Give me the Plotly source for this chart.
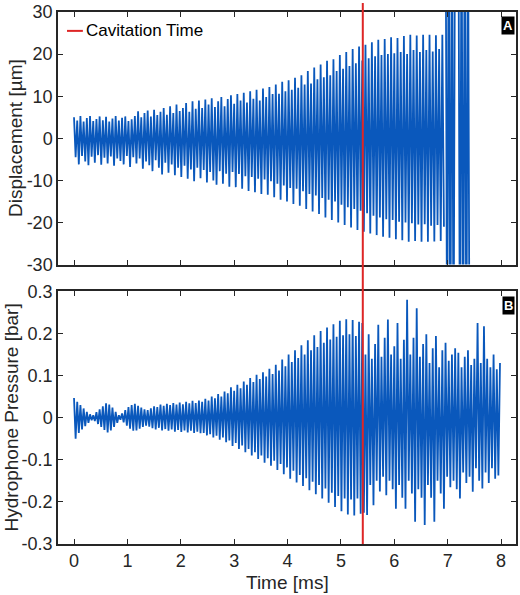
import plotly.graph_objects as go
from plotly.subplots import make_subplots

# time between a positive and the following negative peak, ms
half_period = 0.03
cavitation_time = 5.41

# displacement [um], positive / negative peak of each cycle up to ~6.9 ms
disp_pos = [
    5.0, 4.2, 5.3, 4.0, 4.8, 5.3, 4.1, 4.6, 5.2, 4.3,
    5.1, 4.0, 4.7, 5.3, 4.2, 4.9, 5.2, 4.1, 4.5, 5.3,
    6.4, 5.0, 6.0, 6.6, 5.2, 6.8, 5.5, 6.3, 7.2, 5.6,
    7.6, 6.0, 8.0, 6.5, 7.2, 8.4, 6.3, 8.8, 7.0, 9.0,
    7.2, 9.2, 8.0, 9.5, 7.4, 8.8, 9.8, 7.6, 9.3, 10.2,
    8.2, 10.5, 9.0, 10.8, 8.5, 11.2, 9.4, 11.5, 9.0, 11.8,
    9.8, 12.2, 10.5, 12.8, 10.6, 13.4, 11.2, 13.8, 11.5, 14.4,
    12.0, 15.0, 12.8, 16.0, 13.0, 16.8, 14.0, 17.5, 14.5, 18.4,
    15.0, 18.8, 16.0, 19.8, 16.5, 20.5, 17.2, 21.2, 17.8, 21.8,
    18.5, 22.2, 19.0, 22.8, 19.5, 23.4, 19.8, 23.6, 20.0, 24.0,
    20.2, 23.8, 20.5, 24.3, 20.0, 24.6, 21.0, 24.4, 20.5, 24.6,
    21.0, 24.6, 20.6, 24.5, 21.2, 24.6,
]
disp_neg = [
    -4.5, -6.2, -4.2, -5.5, -6.4, -4.4, -5.8, -4.0, -6.3, -4.6,
    -6.0, -4.3, -6.5, -4.8, -5.4, -6.2, -4.2, -6.8, -4.5, -6.0,
    -4.8, -7.2, -5.5, -6.4, -7.8, -5.2, -7.0, -8.6, -5.8, -8.2,
    -6.2, -8.8, -7.0, -9.2, -6.5, -9.6, -7.4, -10.2, -7.0, -9.5,
    -7.5, -10.5, -8.0, -10.0, -11.0, -7.8, -10.8, -8.4, -11.5, -8.0,
    -11.6, -8.5, -12.0, -9.0, -12.5, -9.2, -12.8, -9.6, -13.2, -9.8,
    -13.4, -10.2, -14.0, -10.8, -14.6, -11.2, -15.0, -11.8, -15.6, -12.0,
    -16.0, -12.6, -16.8, -13.2, -17.4, -13.6, -18.0, -14.2, -18.8, -14.6,
    -19.4, -15.0, -20.0, -15.8, -20.6, -16.4, -21.2, -16.8, -21.8, -17.2,
    -22.2, -17.8, -22.6, -18.4, -23.0, -18.8, -23.4, -19.2, -23.6, -19.4,
    -24.0, -19.8, -24.2, -20.0, -24.6, -20.2, -24.4, -20.5, -24.6, -20.4,
    -24.6, -20.8, -24.5, -20.6, -24.4, -21.0,
]

# blow-out after cavitation: two bursts far beyond the +/-30 um range
burst_a_start = 6.96
burst_a = [65, -60, 60, -60, 60, -60, 65]
burst_b_start = 7.20
burst_b = [60, -60, 60, -60, 60, -60, 60, -60]

# hydrophone pressure [bar], positive / negative peak of each cycle
pres_pos = [
    0.047, 0.038, 0.030, 0.022, 0.014, 0.008, 0.006, 0.013, 0.020, 0.027,
    0.034, 0.031, 0.024, 0.014, 0.006, 0.010, 0.018, 0.025, 0.030, 0.033,
    0.028, 0.024, 0.020, 0.018, 0.022, 0.027, 0.025, 0.031, 0.028, 0.033,
    0.030, 0.035, 0.031, 0.036, 0.032, 0.038, 0.034, 0.040, 0.035, 0.041,
    0.038, 0.045, 0.041, 0.050, 0.046, 0.056, 0.050, 0.062, 0.058, 0.072,
    0.064, 0.078, 0.070, 0.086, 0.078, 0.094, 0.085, 0.102, 0.092, 0.108,
    0.098, 0.116, 0.104, 0.126, 0.112, 0.138, 0.122, 0.150, 0.132, 0.160,
    0.142, 0.172, 0.150, 0.184, 0.160, 0.196, 0.168, 0.206, 0.178, 0.214,
    0.186, 0.222, 0.192, 0.230, 0.196, 0.234, 0.198, 0.232, 0.194, 0.228,
    0.225, 0.150, 0.198, 0.140, 0.175, 0.221, 0.145, 0.190, 0.233, 0.150,
    0.170, 0.225, 0.140, 0.185, 0.280, 0.150, 0.190, 0.260, 0.145, 0.175,
    0.198, 0.130, 0.165, 0.194, 0.120, 0.160, 0.178, 0.135, 0.150, 0.165,
    0.154, 0.120, 0.145, 0.160, 0.125, 0.140, 0.225, 0.130, 0.217, 0.140,
    0.120, 0.150, 0.115, 0.130,
]
pres_neg = [
    -0.050, -0.036, -0.028, -0.020, -0.012, -0.006, -0.008, -0.015, -0.022, -0.029,
    -0.035, -0.030, -0.022, -0.012, -0.005, -0.011, -0.019, -0.026, -0.031, -0.030,
    -0.026, -0.022, -0.019, -0.021, -0.025, -0.028, -0.024, -0.030, -0.027, -0.031,
    -0.028, -0.033, -0.029, -0.034, -0.030, -0.035, -0.031, -0.036, -0.033, -0.037,
    -0.036, -0.042, -0.039, -0.047, -0.043, -0.052, -0.047, -0.058, -0.054, -0.067,
    -0.060, -0.074, -0.066, -0.082, -0.074, -0.090, -0.082, -0.098, -0.090, -0.107,
    -0.096, -0.114, -0.102, -0.124, -0.110, -0.134, -0.118, -0.145, -0.126, -0.154,
    -0.136, -0.162, -0.144, -0.172, -0.152, -0.182, -0.160, -0.192, -0.168, -0.202,
    -0.178, -0.212, -0.186, -0.222, -0.192, -0.230, -0.194, -0.232, -0.192, -0.228,
    -0.226, -0.231, -0.160, -0.208, -0.150, -0.175, -0.140, -0.184, -0.150, -0.170,
    -0.216, -0.160, -0.190, -0.216, -0.150, -0.180, -0.247, -0.170, -0.190, -0.255,
    -0.160, -0.190, -0.247, -0.150, -0.180, -0.216, -0.140, -0.165, -0.150, -0.170,
    -0.192, -0.130, -0.155, -0.140, -0.176, -0.120, -0.150, -0.168, -0.130, -0.155,
    -0.120, -0.145, -0.137,
]

time_ticks = [0, 1, 2, 3, 4, 5, 6, 7, 8]
disp_ticks = [-30, -20, -10, 0, 10, 20, 30]
disp_tick_labels = ["-30", "-20", "-10", "0", "10", "20", "30"]
pres_ticks = [-0.3, -0.2, -0.1, 0, 0.1, 0.2, 0.3]
pres_tick_labels = ["-0.3", "-0.2", "-0.1", "0", "0.1", "0.2", "0.3"]

BLUE = "rgb(10,88,188)"
RED = "rgb(222,38,38)"
AXIS = "#262626"
FONT = "Liberation Sans, Arial, sans-serif"


def interleave(pos, neg):
    out = []
    for i, p in enumerate(pos):
        out.append(p)
        if i < len(neg):
            out.append(neg[i])
    return out


fig = make_subplots(rows=2, cols=1)

# wide strokes so the packed oscillation reads as a solid core with spikes
signal = dict(mode="lines", line=dict(color=BLUE, width=1.8), showlegend=False)

fig.add_trace(go.Scatter(y=interleave(disp_pos, disp_neg), x0=0, dx=half_period,
                         **signal), row=1, col=1)
fig.add_trace(go.Scatter(y=burst_a, x0=burst_a_start, dx=half_period, **signal),
              row=1, col=1)
fig.add_trace(go.Scatter(y=burst_b, x0=burst_b_start, dx=half_period, **signal),
              row=1, col=1)
fig.add_trace(go.Scatter(y=interleave(pres_pos, pres_neg), x0=0, dx=half_period,
                         **signal), row=2, col=1)

axis_style = dict(
    showline=True, linecolor=AXIS, linewidth=1.5, mirror="ticks",
    ticks="inside", ticklen=5, tickwidth=1, tickcolor=AXIS,
    showgrid=False, zeroline=False,
    tickfont=dict(family=FONT, size=18, color=AXIS),
)

fig.update_xaxes(range=[-0.3, 8.28], tickvals=time_ticks, domain=[0, 1], **axis_style)
fig.update_xaxes(showticklabels=False, row=1, col=1)
fig.update_yaxes(range=[-30, 30], tickvals=disp_ticks, ticktext=disp_tick_labels,
                 domain=[0.5252, 1], ticklabelstandoff=0, row=1, col=1, **axis_style)
fig.update_yaxes(range=[-0.3, 0.3], tickvals=pres_ticks, ticktext=pres_tick_labels,
                 domain=[0, 0.4748], ticklabelstandoff=0, row=2, col=1, **axis_style)

# cavitation marker across both panels, up to the top edge
fig.add_shape(
    type="line", x0=cavitation_time, x1=cavitation_time,
    xref="x2", yref="paper", y0=0, y1=1.017,
    line=dict(color=RED, width=2)
)

# legend entry (short key like the original)
fig.add_shape(type="line", xref="paper", yref="paper",
              x0=0.0196, x1=0.0543, y0=0.9645, y1=0.9645,
              line=dict(color=RED, width=2))
fig.add_annotation(xref="paper", yref="paper", x=0.0565, y=0.9645,
                   text="Cavitation Time", showarrow=False,
                   xanchor="left", yanchor="middle",
                   font=dict(family=FONT, size=17, color="black"))

# panel letters
for letter, ypos in [("A", 0.974), ("B", 0.4485)]:
    fig.add_annotation(xref="paper", yref="paper", x=0.983, y=ypos,
                       text="<b>" + letter + "</b>", showarrow=False,
                       xanchor="center", yanchor="middle",
                       bgcolor="black", borderpad=1,
                       font=dict(family=FONT, size=13, color="white"))

# axis titles
fig.add_annotation(xref="paper", yref="paper", x=-0.0924, y=0.7626,
                   text="Displacement [µm]", textangle=-90, showarrow=False,
                   xanchor="center", yanchor="middle",
                   font=dict(family=FONT, size=19, color=AXIS))
fig.add_annotation(xref="paper", yref="paper", x=-0.101, y=0.2374,
                   text="Hydrophone Pressure [bar]", textangle=-90, showarrow=False,
                   xanchor="center", yanchor="middle",
                   font=dict(family=FONT, size=19, color=AXIS))
fig.add_annotation(xref="paper", yref="paper", x=0.5, y=-0.0729,
                   text="Time [ms]", showarrow=False,
                   xanchor="center", yanchor="middle",
                   font=dict(family=FONT, size=19, color=AXIS))

fig.update_layout(
    width=520, height=595,
    margin=dict(l=58, r=2, t=9, b=51),
    plot_bgcolor="white", paper_bgcolor="white",
    showlegend=False,
)

# drop the default 8 px page margin so the canvas fills the window
fig.write_html("out.html", config={"displayModeBar": False},
               post_script="document.body.style.margin = '0';")
